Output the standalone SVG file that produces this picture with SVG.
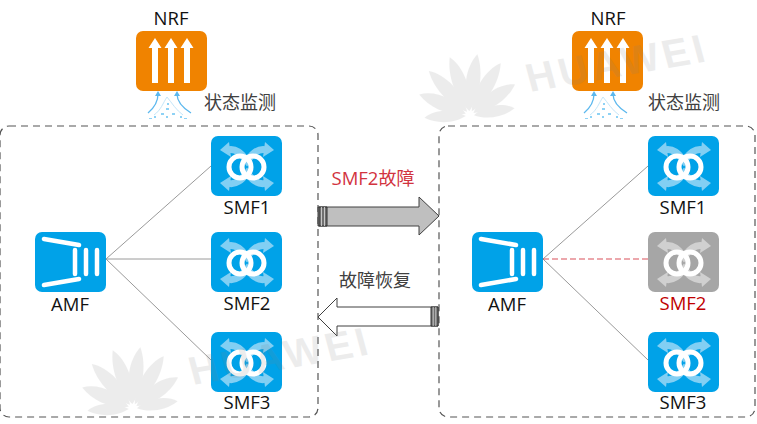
<svg xmlns="http://www.w3.org/2000/svg" xmlns:xlink="http://www.w3.org/1999/xlink" width="757" height="424" viewBox="0 0 757 424">
<style>
text{font-family:"Open Sans","Noto Sans CJK SC",sans-serif;font-size:18.5px;fill:#111;text-anchor:middle}
.zh{font-family:"Noto Sans CJK SC",sans-serif;font-size:18px;fill:#404040}
.red{fill:#c00000}
.wm{font-family:"Liberation Sans",sans-serif;font-weight:bold;font-size:40px;fill:#808080;letter-spacing:4px;text-anchor:start}
.frame{fill:none;stroke:#555;stroke-width:1.2;stroke-dasharray:7 5}
.link{stroke:#9a9a9a;stroke-width:1;fill:none}
.down{stroke:#d9505a;stroke-width:1.2;stroke-dasharray:6 3;fill:none}
.sw{fill:none;stroke:#fff;stroke-width:5}
</style>
<defs>
<path id="petal" d="M1-6C-8-20-11-44-3-63C8-50 10-24 1-6Z"/>
<g id="petals" fill="#808080" opacity=".14">
<use href="#petal" transform="rotate(-10)"/>
<use href="#petal" transform="scale(-1 1) rotate(-10)"/>
<use href="#petal" transform="rotate(-33) scale(1 .98)"/>
<use href="#petal" transform="scale(-1 1) rotate(-33) scale(1 .98)"/>
<use href="#petal" transform="rotate(-57) scale(1 .88)"/>
<use href="#petal" transform="scale(-1 1) rotate(-57) scale(1 .88)"/>
<use href="#petal" transform="rotate(-82) scale(.8 .72)"/>
<use href="#petal" transform="scale(-1 1) rotate(-82) scale(.8 .72)"/>
</g>
<g id="swi">
<path d="M16 14C26 11 32 20 36 25C40 20 46 11 56 14" fill="none" stroke="#82cff3" stroke-width="7"/>
<path d="M16 47C26 50 32 42 36 37C40 42 46 50 56 47" fill="none" stroke="#82cff3" stroke-width="7"/>
<path d="M18 6L9 14L20 21Z M54 6L63 14L52 21Z M20 40L9 47L18 55Z M52 40L63 47L54 55Z" fill="#82cff3"/>
<circle class="sw" cx="29" cy="31" r="11"/>
<circle class="sw" cx="42" cy="31" r="11"/>
</g>
<g id="nrfi">
<rect width="71" height="60" rx="7" fill="#f08300"/>
<path d="M19 7L25.500 17H22V52H16V17H12.500Z M35 7L41.500 17H38V52H32V17H28.500Z M51 7L57.500 17H54V52H48V17H44.500Z" fill="#fff"/>
<path d="M12 82C18 77 22 70 22 63M55 82C47 77 41 70 41 63" fill="none" stroke="#5cb8ee" stroke-width="1.300"/>
<path d="M22 60L19 65H25Z M41 60L38 65H44Z" fill="#5cb8ee"/>
<path d="M18 84C25 79 27 72 31 66C36 72 40 79 47 84" fill="none" stroke="#c4e6f9" stroke-width="1"/>
<path d="M30 77h3v2h-3z M25 82h3v2h-3z M36 82h3v2h-3z M18 85h2v2h-2z M44 85h2v2h-2z M31 72h2v2h-2z M13 87h3v1h-3z M30 85h2v2h-2z M48 87h3v1h-3z" fill="#8ed2f5"/>
</g>
</defs>

<g id="frames">
<rect class="frame" x="0" y="126" width="318" height="291" rx="9"/>
<rect class="frame" x="439" y="126" width="316" height="291" rx="9"/>
</g>

<g id="connectors">
<path class="link" d="M106 259L211 166M106 259H211M106 259L211 360"/>
<path class="link" d="M543 259L648 166M543 259L648 360"/>
<path class="down" d="M543 259H648"/>
<g id="arrow-fail">
<path d="M318 207H419V197L439 216L419 235V226H318Z" fill="#bfbfbf" stroke="#404040" stroke-width="1"/>
<path d="M319 207h8v19h-8z" fill="#707070" stroke="#303030"/>
<path d="M321.500 207v19M324.500 207v19" stroke="#ddd" stroke-width=".8"/>
</g>
<g id="arrow-recover">
<path d="M438 307H337V298L318 317L337 336V326H438Z" fill="#fff" stroke="#404040" stroke-width="1"/>
<path d="M431 307h7v19h-7z" fill="#707070" stroke="#303030"/>
<path d="M433.200 307v19M435.800 307v19" stroke="#ddd" stroke-width=".8"/>
</g>
</g>

<g id="label-fail"><text x="373" y="185" style="fill:#d2343f">SMF2<tspan font-family="Noto Sans CJK SC" font-size="18">故障</tspan></text></g>
<g id="label-recover"><text x="375" y="287" class="zh">故障恢复</text></g>

<g id="nrf-left"><text x="171" y="25">NRF</text><use href="#nrfi" x="136" y="31"/><text x="240" y="109" class="zh">状态监测</text></g>
<g id="nrf-right"><text x="608" y="25">NRF</text><use href="#nrfi" x="572" y="31"/><text x="684" y="109" class="zh">状态监测</text></g>

<g id="amf-left">
<rect x="35" y="232" width="71" height="60" rx="7" fill="#00a2e8"/>
<path d="M44 239L79 245M44 285L79 279M75 250V274M86 250V274M97 250V274" stroke="#fff" stroke-width="4.500" stroke-linecap="round" fill="none"/>
<text x="70" y="311">AMF</text>
</g>
<g id="amf-right">
<rect x="472" y="232" width="71" height="60" rx="7" fill="#00a2e8"/>
<path d="M481 239L516 245M481 285L516 279M512 250V274M523 250V274M534 250V274" stroke="#fff" stroke-width="4.500" stroke-linecap="round" fill="none"/>
<text x="507" y="311">AMF</text>
</g>

<g id="smf1-left"><rect x="211" y="136" width="71" height="60" rx="7" fill="#00a2e8"/><use href="#swi" x="211" y="136"/><text x="247" y="214">SMF1</text></g>
<g id="smf2-left"><rect x="211" y="232" width="71" height="60" rx="7" fill="#00a2e8"/><use href="#swi" x="211" y="232"/><text x="247" y="310">SMF2</text></g>
<g id="smf3-left"><rect x="211" y="332" width="71" height="60" rx="7" fill="#00a2e8"/><use href="#swi" x="211" y="332"/><text x="247" y="409">SMF3</text></g>
<g id="smf1-right"><rect x="648" y="136" width="71" height="60" rx="7" fill="#00a2e8"/><use href="#swi" x="648" y="136"/><text x="683" y="214">SMF1</text></g>
<g id="smf2-right">
<rect x="648" y="232" width="71" height="60" rx="7" fill="#a6a6a6"/>
<path d="M664 246C674 243 680 252 684 257C688 252 694 243 704 246M664 279C674 282 680 274 684 269C688 274 694 282 704 279" fill="none" stroke="#d0d0d0" stroke-width="7"/>
<path d="M666 238L657 246L668 253Z M702 238L711 246L700 253Z M668 272L657 279L666 287Z M700 272L711 279L702 287Z" fill="#d0d0d0"/>
<circle class="sw" cx="677" cy="263" r="11"/><circle class="sw" cx="690" cy="263" r="11"/>
<text x="683" y="310" class="red">SMF2</text>
</g>
<g id="smf3-right"><rect x="648" y="332" width="71" height="60" rx="7" fill="#00a2e8"/><use href="#swi" x="648" y="332"/><text x="683" y="409">SMF3</text></g>

<g id="watermark">
<use href="#petals" transform="translate(470 117) rotate(-6)"/>
<text class="wm" opacity=".14" transform="matrix(.985 -.17 .26 .97 530 92)">HUAWEI</text>
<use href="#petals" transform="translate(133 410) rotate(-6)"/>
<text class="wm" opacity=".14" transform="matrix(.985 -.17 .26 .97 193 385)">HUAWEI</text>
</g>
</svg>
